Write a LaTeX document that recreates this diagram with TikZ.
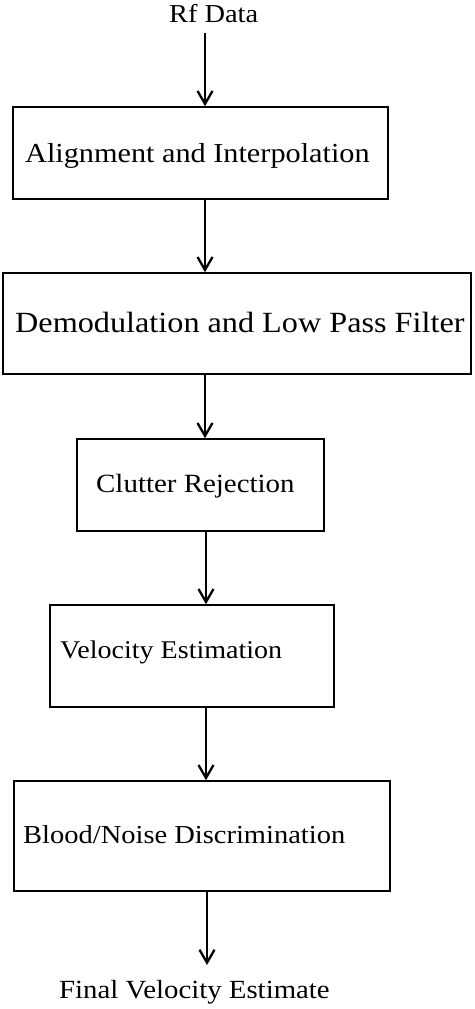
\documentclass[tikz,border=0pt]{standalone}
\usepackage{fontspec}
\setmainfont[FakeStretch=1.1]{Liberation Serif}
\usetikzlibrary{arrows.meta}
\tikzset{
  box/.style={draw=black, line width=1.5pt, inner sep=0pt, rectangle},
  lbl/.style={inner sep=0pt, anchor=base west, text=black},
  arr/.style={line width=1.4pt, -{Straight Barb[length=13pt,width=15pt,line width=2.3pt]}}
}
\begin{document}
\begin{tikzpicture}[x=1pt,y=-1pt]
\useasboundingbox (0,0) rectangle (474,1009);
% boxes
\node[box, minimum width=375pt, minimum height=92pt]  (b1) at (200.5,153) {};
\node[box, minimum width=468pt, minimum height=101pt] (b2) at (237,323.5) {};
\node[box, minimum width=247pt, minimum height=92pt]  (b3) at (200.5,485) {};
\node[box, minimum width=284pt, minimum height=102pt] (b4) at (192,656) {};
\node[box, minimum width=376pt, minimum height=110pt] (b5) at (202,836) {};
% texts
\node[lbl, font=\fontsize{25.8}{30}\selectfont] (rf) at (169,23) {Rf Data};
\node[lbl, font=\fontsize{27.5}{32}\selectfont] (t1) at (25,162) {Alignment and Interpolation};
\node[lbl, font=\fontsize{29.3}{34}\selectfont] (t2) at (15,332) {Demodulation and Low Pass Filter};
\node[lbl, font=\fontsize{26.3}{31}\selectfont] (t3) at (96,492) {Clutter Rejection};
\node[lbl, font=\fontsize{25.5}{30}\selectfont] (t4) at (60,658) {Velocity Estimation};
\node[lbl, font=\fontsize{25.9}{30}\selectfont] (t5) at (23,843) {Blood/Noise Discrimination};
\node[lbl, font=\fontsize{26.2}{31}\selectfont] (fin) at (59,998) {Final Velocity Estimate};
% arrow columns
\coordinate (c0) at (205,33);
\coordinate (ca) at (205,0);
\coordinate (cb) at (206,0);
\coordinate (c6) at (207,965);
\draw[arr] (c0) -- (b1.north -| ca);
\draw[arr] (b1.south -| ca) -- (b2.north -| ca);
\draw[arr] (b2.south -| ca) -- (b3.north -| ca);
\draw[arr] (b3.south -| cb) -- (b4.north -| cb);
\draw[arr] (b4.south -| cb) -- (b5.north -| cb);
\draw[arr] (b5.south -| c6) -- (c6);
\end{tikzpicture}
\end{document}
